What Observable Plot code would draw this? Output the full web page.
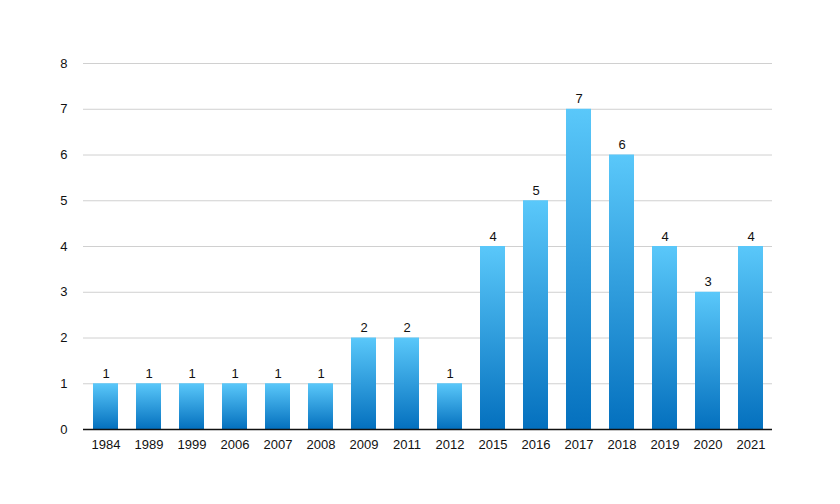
<!DOCTYPE html>
<html><head><meta charset="utf-8">
<script src="https://cdn.jsdelivr.net/npm/d3@7"></script>
<script src="https://cdn.jsdelivr.net/npm/@observablehq/plot@0.6"></script>
<style>body{margin:0;background:#fff;font-family:"Liberation Sans",Helvetica,Arial,sans-serif;}</style>
</head><body><div id="chart"></div>
<script>
const years = ["1984","1989","1999","2006","2007","2008","2009","2011","2012","2015","2016","2017","2018","2019","2020","2021"];
const counts = [1,1,1,1,1,1,2,2,1,4,5,7,6,4,3,4];
const yTicks = [0,1,2,3,4,5,6,7,8];
const data = years.map((y,i)=>({year:y,count:counts[i]}));
const chart = Plot.plot({
  width:840,height:504,
  marginLeft:83,marginRight:68,marginTop:63,marginBottom:75,
  style:{fontFamily:'"Liberation Sans",Helvetica,Arial,sans-serif',fontSize:"13px",color:"#111"},
  x:{domain:years,paddingInner:0.42,paddingOuter:0.21,label:null,tickSize:0,tickPadding:10},
  y:{domain:[0,8],ticks:yTicks,label:null,tickSize:0,tickPadding:16,grid:false},
  marks:[
    () => {
      const svg = d3.create("svg:defs");
      const g = svg.append("linearGradient").attr("id","barGrad").attr("x1",0).attr("y1",0).attr("x2",0).attr("y2",1);
      g.append("stop").attr("offset","0%").attr("stop-color","#5AC8FA");
      g.append("stop").attr("offset","100%").attr("stop-color","#0470BE");
      return svg.node();
    },
    Plot.gridY(yTicks.filter(d=>d>0),{stroke:"#d0d0d0",strokeOpacity:1,strokeWidth:1}),
    Plot.barY(data,{x:"year",y:"count",fill:"url(#barGrad)"}),
    Plot.ruleY([0],{stroke:"#111",strokeWidth:1.5}),
    Plot.text(data,{x:"year",y:"count",text:d=>String(d.count),dy:-10,fontSize:13,fill:"#111"})
  ]
});
document.getElementById("chart").appendChild(chart);
</script></body></html>
